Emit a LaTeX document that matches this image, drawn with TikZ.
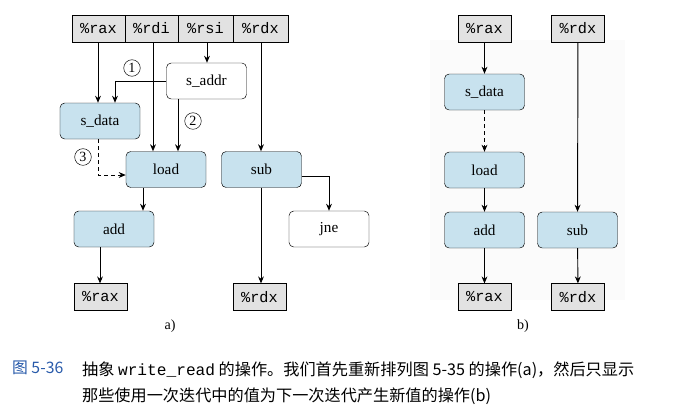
\documentclass[tikz,border=0pt]{standalone}
\usepackage{fontspec}
\setmainfont{Liberation Serif}
\setmonofont{Liberation Mono}
\newfontfamily\cjk{Noto Sans CJK SC}
\usetikzlibrary{arrows.meta,calc,positioning}
\definecolor{opfill}{RGB}{200,226,238}
\definecolor{regfill}{RGB}{226,226,226}
\definecolor{capblue}{RGB}{40,90,170}
\tikzset{
	reg/.style={draw,fill=regfill,minimum width=1.6cm,minimum height=0.8cm,inner sep=0pt,font=\ttfamily\fontsize{13}{15}\selectfont},
	op/.style={draw,fill=opfill,rounded corners=4pt,minimum width=2.4cm,minimum height=1.08cm,inner sep=0pt,font=\fontsize{13}{15}\selectfont},
	plainop/.style={draw,fill=white,rounded corners=4pt,minimum width=2.4cm,minimum height=1.08cm,inner sep=0pt,font=\fontsize{13}{15}\selectfont},
	num/.style={draw,circle,inner sep=1.5pt,font=\fontsize{12}{14}\selectfont},
	flow/.style={-{Stealth[length=6pt,width=5pt]},thick},
}
\begin{document}
\begin{tikzpicture}[x=0.03cm,y=-0.03cm]
	\useasboundingbox (0,0) rectangle (687,406);
	\fill[black!1.5] (430,40) rectangle (625,300);
	% a) registers
	\node (RAX) at (98.5,28.5) [reg,minimum width=1.59cm] {\%rax};
	\node (RDI) at (151.5,28.5) [reg,minimum width=1.59cm] {\%rdi};
	\node (RSI) at (205.5,28.5) [reg,minimum width=1.65cm] {\%rsi};
	\node (RDX) at (260.5,28.5) [reg,minimum width=1.65cm] {\%rdx};
	% a) operations
	\node (SADDR) at (206.5,81) [plainop] {s\_addr};
	\node (SDATA) at (100,121) [op] {s\_data};
	\node (LOAD) at (166,169.5) [op] {load};
	\node (SUB) at (261.5,169.5) [op] {sub};
	\node (ADD) at (114,229) [op] {add};
	\node (JNE) at (329,229) [plainop] {jne};
	\node (ORAX) at (100.5,297) [reg] {\%rax};
	\node (ORDX) at (259.5,297) [reg] {\%rdx};
	\coordinate (C3) at (98,175);
	
	\draw[flow] (RAX.south -| 98,0) -- (SDATA.north -| 98,0);
	\draw[flow] (SADDR.west) -| (SDATA.north -| 115,0);
	\draw[flow] (RDI.south -| 153,0) -- (LOAD.north -| 153,0);
	\draw[flow] (RSI.south -| 207,0) -- (SADDR.north -| 207,0);
	\draw[flow] (SADDR.south -| 178,0) -- (LOAD.north -| 178,0);
	\draw[flow] (RDX.south -| 261,0) -- (SUB.north -| 261,0);
	\draw[flow,dashed] (SDATA.south -| 98,0) -- (C3) -- (LOAD.west |- C3);
	\draw[flow] (LOAD.south -| 143,0) -- (ADD.north -| 143,0);
	\draw[flow] (ADD.south -| 100,0) -- (ORAX.north -| 100,0);
	\draw[flow] (SUB.south -| 261,0) -- (ORDX.north -| 261,0);
	\draw[flow] (SUB.east |- 0,176) -| (JNE.north);
	\node (N1) at (132,68) [num] {1};
	\node (N2) at (193,121) [num] {2};
	\node (N3) at (83,157) [num] {3};
	\node (LA) at (170,326) [font=\fontsize{12}{14}\selectfont] {a)};
	
	% b)
	\node (BRAX) at (484.5,28.5) [reg] {\%rax};
	\node (BRDX) at (578,28.5) [reg] {\%rdx};
	\node (BSDATA) at (484.5,92) [op] {s\_data};
	\node (BLOAD) at (484.5,170) [op] {load};
	\node (BADD) at (484.5,230) [op] {add};
	\node (BSUB) at (577.5,230) [op] {sub};
	\node (BORAX) at (484.5,297) [reg] {\%rax};
	\node (BORDX) at (578,297) [reg] {\%rdx};
	\draw[flow] (BRAX) -- (BSDATA);
	\draw[flow,dashed] (BSDATA) -- (BLOAD);
	\draw[flow] (BLOAD) -- (BADD);
	\draw[flow] (BADD) -- (BORAX);
	\draw[flow] (BRDX) -- (BSUB);
	\draw[flow] (BSUB) -- (BORDX);
	\node (LB) at (523,326) [font=\fontsize{12}{14}\selectfont] {b)};
	
	% caption
	\node (CAPN) at (8,368) [anchor=west,text=capblue,font=\cjk\fontsize{13.5}{15}\selectfont] {图 5-36};
	\node (CAP) at (78,368) [anchor=north west,yshift=9pt,align=left,font=\cjk\fontsize{13.8}{22}\selectfont] {抽象 {\ttfamily write\_read} 的操作。我们首先重新排列图 5-35 的操作(a)，然后只显示\\那些使用一次迭代中的值为下一次迭代产生新值的操作(b)};
\end{tikzpicture}
\end{document}
